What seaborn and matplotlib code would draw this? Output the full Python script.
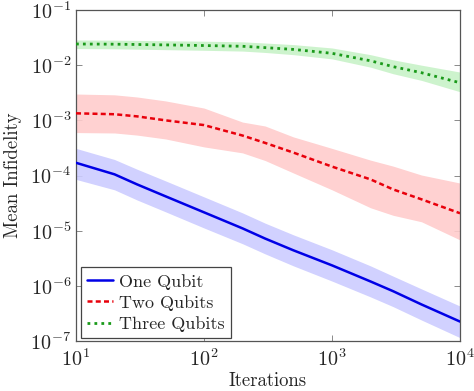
import numpy as np
import pandas as pd
import matplotlib
matplotlib.use("Agg")
import matplotlib.pyplot as plt
import seaborn as sns

iterations = [10, 20, 30, 50, 100, 200, 300, 500, 1000, 2000, 3000, 5000, 10000]

one_mean = [1.7e-4, 1.05e-4, 6.9e-5, 4.2e-5, 2.15e-5, 1.1e-5, 7.2e-6, 4.4e-6, 2.35e-6, 1.2e-6, 8.0e-7, 4.6e-7, 2.25e-7]
one_low = [8.5e-5, 5.5e-5, 3.6e-5, 2.2e-5, 1.12e-5, 5.8e-6, 3.8e-6, 2.3e-6, 1.22e-6, 6.3e-7, 4.2e-7, 2.4e-7, 1.15e-7]
one_high = [3.1e-4, 1.95e-4, 1.3e-4, 8.0e-5, 4.1e-5, 2.1e-5, 1.37e-5, 8.4e-6, 4.5e-6, 2.3e-6, 1.5e-6, 8.8e-7, 4.3e-7]

two_mean = [1.34e-3, 1.29e-3, 1.18e-3, 1.0e-3, 8.2e-4, 5.3e-4, 3.9e-4, 2.6e-4, 1.45e-4, 8.5e-5, 5.6e-5, 3.7e-5, 2.07e-5]
two_low = [6.0e-4, 5.9e-4, 5.4e-4, 4.6e-4, 3.3e-4, 2.57e-4, 1.87e-4, 1.11e-4, 5.5e-5, 2.6e-5, 1.9e-5, 1.45e-5, 6.8e-6]
two_high = [3.0e-3, 2.9e-3, 2.65e-3, 2.25e-3, 1.67e-3, 9.3e-4, 7.9e-4, 5.0e-4, 3.1e-4, 1.9e-4, 1.48e-4, 1.02e-4, 7.3e-5]

three_mean = [2.42e-2, 2.4e-2, 2.37e-2, 2.33e-2, 2.27e-2, 2.2e-2, 2.08e-2, 1.93e-2, 1.64e-2, 1.2e-2, 9.4e-3, 7.3e-3, 4.8e-3]
three_low = [2.0e-2, 1.98e-2, 1.95e-2, 1.91e-2, 1.86e-2, 1.8e-2, 1.7e-2, 1.55e-2, 1.3e-2, 9.2e-3, 7.0e-3, 5.3e-3, 3.3e-3]
three_high = [2.86e-2, 2.84e-2, 2.81e-2, 2.77e-2, 2.72e-2, 2.65e-2, 2.52e-2, 2.36e-2, 2.05e-2, 1.55e-2, 1.25e-2, 1.0e-2, 7.5e-3]

series_names = ["One Qubit", "Two Qubits", "Three Qubits"]
x_label = "Iterations"
y_label = "Mean Infidelity"

sns.set_style("ticks")
plt.rcParams["font.family"] = ["cmr10", "DejaVu Serif"]
plt.rcParams["mathtext.fontset"] = "cm"
plt.rcParams["axes.formatter.use_mathtext"] = True

fig = plt.figure(figsize=(4.74, 3.91), dpi=100)
ax = fig.add_axes([76 / 474, 1 - 341 / 391, 384 / 474, 331 / 391])

line_colors = ["#0000e6", "#e8000b", "#1a9a1a"]
fill_colors = ["#ccccff", "#ffcccc", "#c8f2c8"]
styles = ["-", (0, (2.0, 1.3)), (0, (1, 1.5))]
widths = [1.8, 1.8, 2.0]

means = [one_mean, two_mean, three_mean]
lows = [one_low, two_low, three_low]
highs = [one_high, two_high, three_high]

for name, m, lo, hi, lc, fc in zip(series_names, means, lows, highs, line_colors, fill_colors):
    ax.fill_between(iterations, lo, hi, color=fc, alpha=0.9, linewidth=0, zorder=1)

for name, m, lc, ls, lw in zip(series_names, means, line_colors, styles, widths):
    df = pd.DataFrame({"x": iterations, "y": m})
    sns.lineplot(data=df, x="x", y="y", ax=ax, color=lc, linestyle=ls, linewidth=lw,
                 label=name, zorder=3)

ax.set_xscale("log")
ax.set_yscale("log")
ax.set_xlim(10, 1e4)
ax.set_ylim(1e-7, 1e-1)
ax.xaxis.set_major_locator(matplotlib.ticker.LogLocator(base=10, numticks=10))
ax.yaxis.set_major_locator(matplotlib.ticker.LogLocator(base=10, numticks=10))
ax.xaxis.set_minor_locator(matplotlib.ticker.NullLocator())
ax.yaxis.set_minor_locator(matplotlib.ticker.NullLocator())

ax.tick_params(which="major", direction="in", length=4.5, width=0.6, color="#777777",
               top=True, right=True, labelsize=14.5)
ax.tick_params(axis="x", pad=5)
ax.tick_params(axis="y", pad=3.5)
for sp in ax.spines.values():
    sp.set_color("#555555")
    sp.set_linewidth(0.9)

ax.set_xlabel(x_label, fontsize=13.5, labelpad=1.5)
ax.set_ylabel(y_label, fontsize=13.5, labelpad=6)

leg = ax.legend(loc="lower left", bbox_to_anchor=(0.012, 0.008), fontsize=13,
                frameon=True, fancybox=False, framealpha=1, edgecolor="#444444",
                handlelength=1.45, handletextpad=0.35, borderpad=0.35, labelspacing=0.3,
                borderaxespad=0)
leg.get_frame().set_linewidth(0.9)

fig.savefig("out.png", dpi=100)
